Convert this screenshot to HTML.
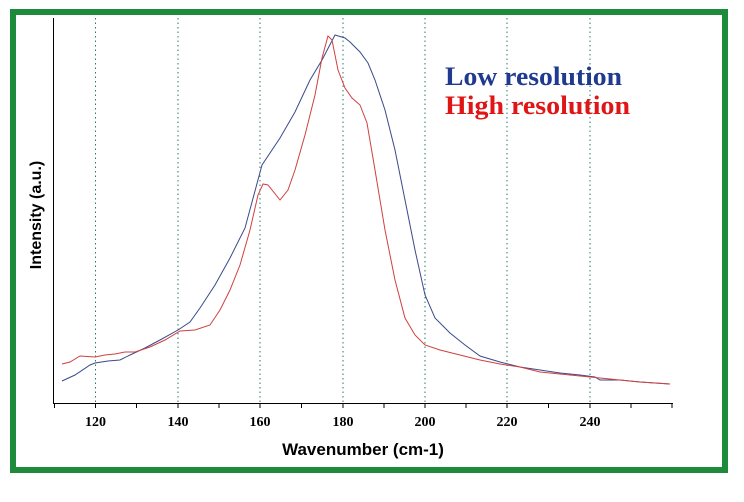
<!DOCTYPE html>
<html><head><meta charset="utf-8"><style>
body{margin:0;background:#fff;}
</style></head><body>
<svg width="744" height="497" viewBox="0 0 744 497" xmlns="http://www.w3.org/2000/svg">
<rect x="0" y="0" width="744" height="497" fill="#fff"/>
<rect x="13" y="12" width="712" height="458" fill="none" stroke="#1e8a3c" stroke-width="6"/>
<g stroke="#2a7a6a" stroke-width="1" stroke-dasharray="1.5,3">
<line x1="95.5" y1="18" x2="95.5" y2="403"/>
<line x1="178" y1="18" x2="178" y2="403"/>
<line x1="260" y1="18" x2="260" y2="403"/>
<line x1="343" y1="18" x2="343" y2="403"/>
<line x1="425" y1="18" x2="425" y2="403"/>
<line x1="507" y1="18" x2="507" y2="403"/>
<line x1="590" y1="18" x2="590" y2="403"/>
</g>
<line x1="53.5" y1="18" x2="53.5" y2="404" stroke="#000"/>
<line x1="53" y1="403.5" x2="673" y2="403.5" stroke="#000"/>
<g stroke="#000">
<line x1="54.5" y1="404" x2="54.5" y2="408"/>
<line x1="95.5" y1="404" x2="95.5" y2="408"/><line x1="136.5" y1="404" x2="136.5" y2="408"/>
<line x1="178" y1="404" x2="178" y2="408"/><line x1="219" y1="404" x2="219" y2="408"/>
<line x1="260" y1="404" x2="260" y2="408"/><line x1="301.5" y1="404" x2="301.5" y2="408"/>
<line x1="343" y1="404" x2="343" y2="408"/><line x1="384" y1="404" x2="384" y2="408"/>
<line x1="425" y1="404" x2="425" y2="408"/><line x1="466" y1="404" x2="466" y2="408"/>
<line x1="507" y1="404" x2="507" y2="408"/><line x1="548.5" y1="404" x2="548.5" y2="408"/>
<line x1="590" y1="404" x2="590" y2="408"/><line x1="631" y1="404" x2="631" y2="408"/>
<line x1="672" y1="404" x2="672" y2="408"/>
</g>
<g font-family="Liberation Serif, serif" font-weight="bold" font-size="14" text-anchor="middle">
<text x="95.5" y="426">120</text><text x="178" y="426">140</text><text x="260" y="426">160</text>
<text x="343" y="426">180</text><text x="425" y="426">200</text><text x="507" y="426">220</text><text x="590" y="426">240</text>
</g>
<text x="363" y="455" font-family="Liberation Sans, sans-serif" font-weight="bold" font-size="17" text-anchor="middle">Wavenumber (cm-1)</text>
<text transform="translate(41,215) rotate(-90)" font-family="Liberation Sans, sans-serif" font-weight="bold" font-size="16" text-anchor="middle">Intensity (a.u.)</text>
<polyline fill="none" stroke="#3a4a8a" stroke-width="1" points="62,381 75,375 90,365 95,363 108,361 120,360 130,355 145,348 160,340 178,330 190,322 200,308 215,285 230,258 245,228 262,165 280,138 295,112 310,80 322,60 335,35 345,38 350,42 360,52 368,63 375,80 385,110 395,150 405,200 415,250 425,295 435,318 450,333 465,345 480,356 500,362 520,367 540,370 560,373 580,375 595,377 600,380 620,380 640,382 670,384"/>
<polyline fill="none" stroke="#d04040" stroke-width="1" points="62,364 70,362 80,356 95,357 105,355 115,354 125,352 135,352 150,347 165,340 180,331 195,330 210,325 220,310 230,290 240,265 250,230 258,195 263,184 268,185 280,200 288,190 295,170 305,135 315,95 322,58 328,36 332,40 338,70 345,88 352,98 360,105 367,123 375,170 385,230 395,280 405,318 415,335 425,345 440,350 460,355 480,360 500,364 520,367 540,372 560,374 580,376 600,378 620,380 640,382 670,384"/>
<text x="445" y="85" font-family="Liberation Serif, serif" font-weight="bold" font-size="26" fill="#1f3a8f" textLength="177" lengthAdjust="spacingAndGlyphs">Low resolution</text>
<text x="445" y="114" font-family="Liberation Serif, serif" font-weight="bold" font-size="26" fill="#e01515" textLength="185" lengthAdjust="spacingAndGlyphs">High resolution</text>
</svg>
</body></html>
